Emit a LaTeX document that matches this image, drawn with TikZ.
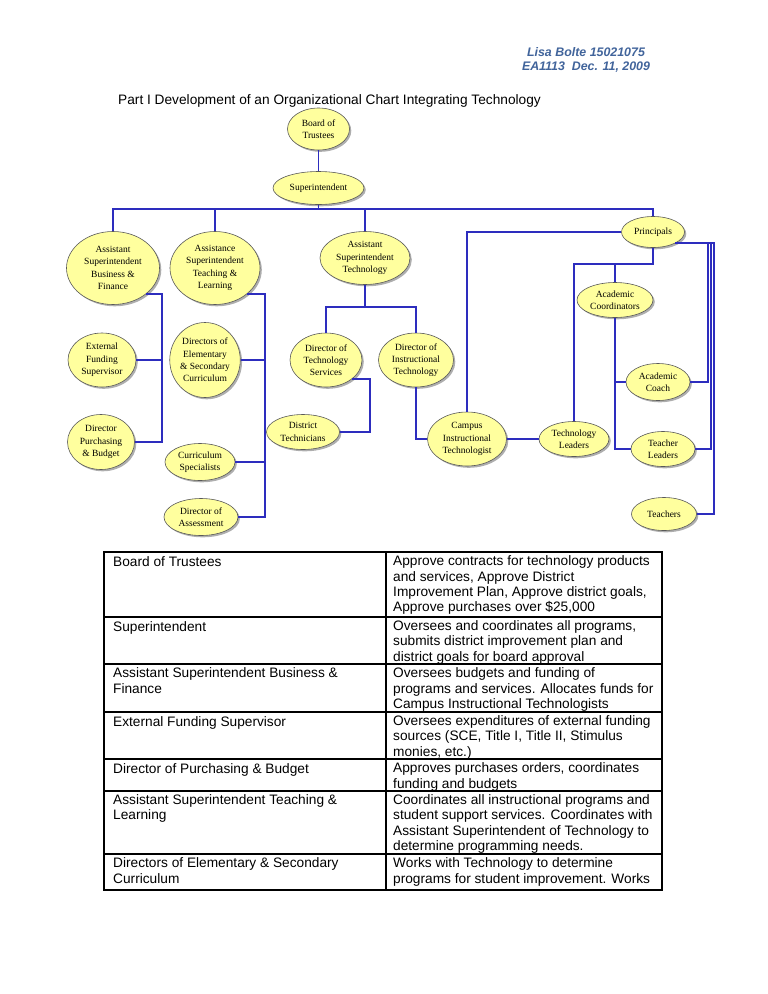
\documentclass[tikz,border=0pt]{standalone}
\usepackage{fontspec}
\setmainfont{Liberation Sans}
\newfontfamily\chartfont{Liberation Serif}
\usepackage{tikz}
\usetikzlibrary{shapes, arrows, shadows, positioning}
\definecolor{linkblue}{RGB}{45,45,190}
\definecolor{rolefill}{RGB}{255,255,158}
\definecolor{headblue}{RGB}{65,100,155}
\tikzstyle{role} = [ellipse, draw=black!65, line width=0.6pt, fill=rolefill, inner sep=0pt, align=center, font=\chartfont\fontsize{9.5}{12.3}\selectfont, drop shadow={shadow xshift=1.8pt, shadow yshift=-1.8pt, fill=black!45, opacity=0.7}]
\tikzstyle{link} = [draw=linkblue, line width=1.8pt]
\tikzstyle{cell} = [anchor=north west, inner sep=0pt, align=left, font=\fontsize{13.7}{15.3}\selectfont, execute at begin node=\strut]
\begin{document}
\begin{tikzpicture}[x=1pt, y=-1pt]
		\useasboundingbox (0,0) rectangle (768,994);
		% Heading
		\node [anchor=north, inner sep=0pt, align=center, text=headblue, font=\bfseries\itshape\fontsize{12.4}{14.4}\selectfont, execute at begin node=\strut] (author) at (586,47.2) {Lisa Bolte 15021075\\EA1113\ \ Dec. 11, 2009};
		\node [anchor=base west, inner sep=0pt, font=\fontsize{13.7}{15.3}\selectfont] (title) at (118,104.5) {Part I Development of an Organizational Chart Integrating Technology};
		
		% Top of the chart
		\node [role, minimum width=62pt, minimum height=42pt] (board) at (318.5,129) {Board of\\Trustees};
		\node [role, minimum width=91pt, minimum height=33pt] (supt) at (318.5,188) {Superintendent};
		\node [role, minimum width=93pt, minimum height=73pt] (bus) at (113,268) {Assistant\\Superintendent\\Business \&\\Finance};
		\node [role, minimum width=90pt, minimum height=73pt] (teach) at (215,268) {Assistance\\Superintendent\\Teaching \&\\Learning};
		\node [role, minimum width=90pt, minimum height=53pt] (tech) at (365,258) {Assistant\\Superintendent\\Technology};
		\node [role, minimum width=63pt, minimum height=31pt] (prin) at (653,232) {Principals};
		
		% Business and teaching
		\node [role, minimum width=68pt, minimum height=54pt] (ext) at (102,360) {External\\Funding\\Supervisor};
		\node [role, minimum width=67pt, minimum height=55pt] (pur) at (101,442) {Director\\Purchasing\\\& Budget};
		\node [role, minimum width=70pt, minimum height=75pt] (elem) at (205,360) {Directors of\\Elementary\\\& Secondary\\Curriculum};
		\node [role, minimum width=70pt, minimum height=37pt] (spec) at (200,462) {Curriculum\\Specialists};
		\node [role, minimum width=74pt, minimum height=37pt] (assess) at (201,517) {Director of\\Assessment};
		
		% Technology
		\node [role, minimum width=72pt, minimum height=54pt] (tserv) at (326,360) {Director of\\Technology\\Services};
		\node [role, minimum width=75pt, minimum height=54pt] (instr) at (416,360) {Director of\\Instructional\\Technology};
		\node [role, minimum width=73pt, minimum height=35pt] (dtech) at (303,432) {District\\Technicians};
		\node [role, minimum width=79pt, minimum height=54pt] (campus) at (467,439) {Campus\\Instructional\\Technologist};
		
		% Campus
		\node [role, minimum width=76pt, minimum height=35pt] (acoord) at (615,300) {Academic\\Coordinators};
		\node [role, minimum width=70pt, minimum height=35pt] (tlead) at (574,439) {Technology\\Leaders};
		\node [role, minimum width=64pt, minimum height=37pt] (coach) at (658,382) {Academic\\Coach};
		\node [role, minimum width=64pt, minimum height=35pt] (teachl) at (663,449) {Teacher\\Leaders};
		\node [role, minimum width=65pt, minimum height=33pt] (teachers) at (664,514) {Teachers};
		
		\coordinate (topbar) at (0,209);
		\coordinate (finbus) at (162,0);
		\coordinate (learnbus) at (265,0);
		\coordinate (techbar) at (0,307);
		\coordinate (servbus) at (370,0);
		\coordinate (princbar) at (0,264);
		\coordinate (coachbus) at (708,0);
		\coordinate (leadbus) at (711,0);
		\coordinate (teacherbus) at (714,0);
		
		\draw[link] (board.south) -- (supt.north);
		\draw[link] (supt.south) -- (supt.south |- topbar);
		\draw[link] (bus.north) |- (prin.north |- topbar) -- (prin.north);
		\draw[link] (teach.north) -- (teach.north |- topbar);
		\draw[link] (tech.north) -- (tech.north |- topbar);
		
		\draw[link] (bus.south east) -| (pur.east -| finbus) -- (pur.east);
		\draw[link] (ext.east) -- (ext.east -| finbus);
		\draw[link] (teach.south east) -| (assess.east -| learnbus) -- (assess.east);
		\draw[link] (elem.east) -- (elem.east -| learnbus);
		\draw[link] (spec.east) -- (spec.east -| learnbus);
		
		\draw[link] (tech.south) -- (tech.south |- techbar);
		\draw[link] (tserv.north) |- (instr.north |- techbar) -- (instr.north);
		\draw[link] (tserv.south east) -| (dtech.east -| servbus) -- (dtech.east);
		\draw[link] (instr.south) |- (campus.west);
		\draw[link] (campus.north) |- (prin.west);
		\draw[link] (campus.east) -- (tlead.west);
		
		\draw[link] (prin.south) |- (tlead.north |- princbar) -- (tlead.north);
		\draw[link] (acoord.north) -- (acoord.north |- princbar);
		\draw[link] (acoord.south) |- (teachl.west);
		\draw[link] (coach.west) -- (coach.west -| acoord.south);
		\draw[link] (prin.south east) -| (coach.east -| coachbus) -- (coach.east);
		\draw[link] (prin.south east) -| (teachl.east -| leadbus) -- (teachl.east);
		\draw[link] (prin.south east) -| (teachers.east -| teacherbus) -- (teachers.east);
		
		% Table
		\draw[line width=1.2pt] (104,552) rectangle (662,890);
		\draw[line width=1.2pt] (386,552) -- (386,890);
		\foreach \y in {617,664,712,759,791,854}
			\draw[line width=1.2pt] (104,\y) -- (662,\y);
		
		\node [cell] (trustees) at (113,555.8) {Board of Trustees};
		\node [cell] (trusteesjob) at (393,555.8) {Approve contracts for technology products\\and services, Approve District\\Improvement Plan, Approve district goals,\\Approve purchases over \$25,000};
		\node [cell] (supt2) at (113,620.3) {Superintendent};
		\node [cell] (supt2job) at (393,620.3) {Oversees and coordinates all programs,\\submits district improvement plan and\\district goals for board approval};
		\node [cell] (bus2) at (113,667.8) {Assistant Superintendent Business \&\\Finance};
		\node [cell] (bus2job) at (393,667.8) {Oversees budgets and funding of\\programs and services. Allocates funds for\\Campus Instructional Technologists};
		\node [cell] (ext2) at (113,715.3) {External Funding Supervisor};
		\node [cell] (ext2job) at (393,715.3) {Oversees expenditures of external funding\\sources (SCE, Title I, Title II, Stimulus\\monies, etc.)};
		\node [cell] (pur2) at (113,762.6) {Director of Purchasing \& Budget};
		\node [cell] (pur2job) at (393,762.6) {Approves purchases orders, coordinates\\funding and budgets};
		\node [cell] (teach2) at (113,794.3) {Assistant Superintendent Teaching \&\\Learning};
		\node [cell] (teach2job) at (393,794.3) {Coordinates all instructional programs and\\student support services. Coordinates with\\Assistant Superintendent of Technology to\\determine programming needs.};
		\node [cell] (elem2) at (113,857.6) {Directors of Elementary \& Secondary\\Curriculum};
		\node [cell] (elem2job) at (393,857.6) {Works with Technology to determine\\programs for student improvement. Works};
	\end{tikzpicture}
\end{document}
